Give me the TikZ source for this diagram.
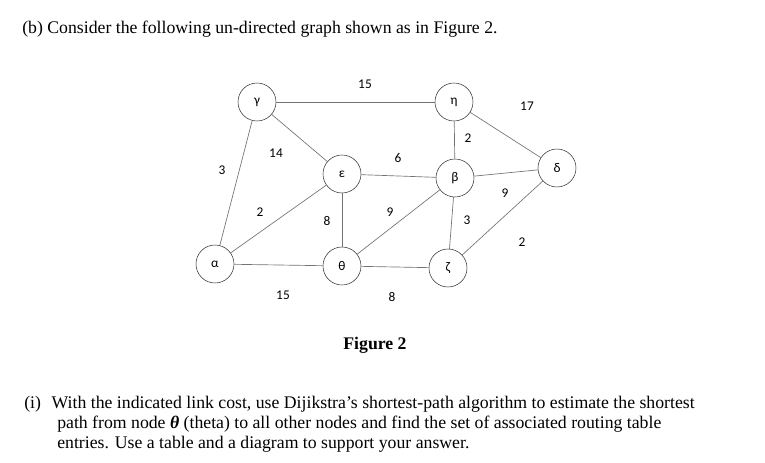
\documentclass[tikz,border=0pt]{standalone}
\usepackage{fontspec}
\setmainfont{Liberation Serif}
\newfontfamily\graphfont{Carlito}
\begin{document}
\begin{tikzpicture}[x=0.75pt, y=-0.75pt,
                    vertex/.style={circle, draw=black!80, minimum size=28.5pt, inner sep=0pt, font=\graphfont\fontsize{10}{11}\selectfont},
                    cost/.style={font=\graphfont\fontsize{10}{11}\selectfont},
                    link/.style={draw=black!55, line width=0.5pt},
                    txt/.style={anchor=west, inner sep=0pt, font=\fontsize{13.3}{15}\selectfont}]
    \useasboundingbox (0,0) rectangle (765,463);

    % Define nodes
    \node[vertex] (gamma) at (257,102) {γ};
    \node[vertex] (eta) at (454,102) {η};
    \node[vertex] (eps) at (342,174) {ε};
    \node[vertex] (beta) at (455,178) {β};
    \node[vertex] (delta) at (557,168) {δ};
    \node[vertex] (alpha) at (215,264) {α};
    \node[vertex] (theta) at (342,266) {θ};
    \node[vertex] (zeta) at (448,268) {ζ};

    % Define edges
    \path[link] (gamma) -- (eta);
    \path[link] (gamma) -- (alpha);
    \path[link] (gamma) -- (eps);
    \path[link] (eta) -- (beta);
    \path[link] (eta) -- (delta);
    \path[link] (eps) -- (beta);
    \path[link] (beta) -- (delta);
    \path[link] (alpha) -- (eps);
    \path[link] (eps) -- (theta);
    \path[link] (theta) -- (beta);
    \path[link] (beta) -- (zeta);
    \path[link] (zeta) -- (delta);
    \path[link] (alpha) -- (theta);
    \path[link] (theta) -- (zeta);

    % Link costs
    \node[cost] (c1) at (365,84) {15};
    \node[cost] (c2) at (527,106) {17};
    \node[cost] (c3) at (222,170) {3};
    \node[cost] (c4) at (276,153) {14};
    \node[cost] (c5) at (398,158) {6};
    \node[cost] (c6) at (468,138) {2};
    \node[cost] (c7) at (505,193) {9};
    \node[cost] (c8) at (260,212) {2};
    \node[cost] (c9) at (327,221) {8};
    \node[cost] (c10) at (390,212) {9};
    \node[cost] (c11) at (467,220) {3};
    \node[cost] (c12) at (522,242) {2};
    \node[cost] (c13) at (283,295) {15};
    \node[cost] (c14) at (392,297) {8};

    % Texts
    \node[txt] (head) at (22,29) {(b) Consider the following un-directed graph shown as in Figure 2.};
    \node[font=\bfseries\fontsize{13.3}{15}\selectfont] (fig) at (375,345) {Figure 2};
    \node[txt] (q1) at (24,404) {(i)\hspace{8pt}With the indicated link cost, use Dijikstra’s shortest-path algorithm to estimate the shortest};
    \node[txt] (q2) at (57,424) {path from node \textbf{\textit{θ}} (theta) to all other nodes and find the set of associated routing table};
    \node[txt] (q3) at (57,444) {entries. Use a table and a diagram to support your answer.};
\end{tikzpicture}
\end{document}
